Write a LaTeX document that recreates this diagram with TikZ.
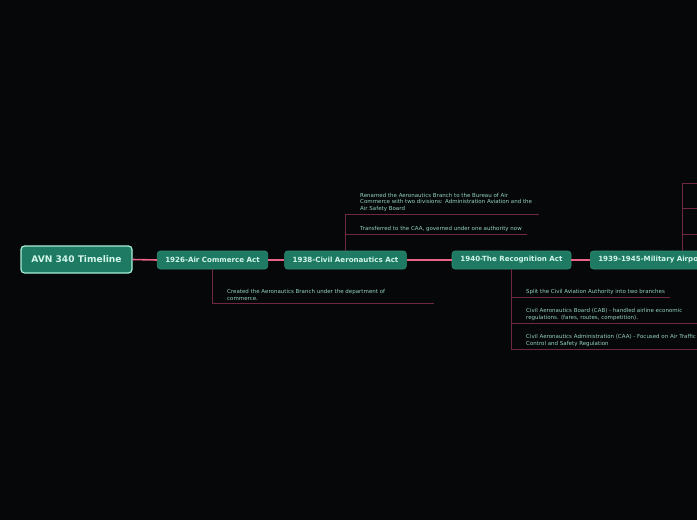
\documentclass[tikz,border=0pt]{standalone}
\usepackage{fontspec}
\setmainfont{DejaVu Sans}
\definecolor{bg}{HTML}{060709}
\definecolor{nodefill}{HTML}{1F7A63}
\definecolor{rootline}{HTML}{A8F0D8}
\definecolor{topicline}{HTML}{2E8F73}
\definecolor{nodetext}{HTML}{D2F5EA}
\definecolor{mainlink}{HTML}{E8628A}
\definecolor{sublink}{HTML}{6E2840}
\definecolor{leaftext}{HTML}{93D2BE}
\tikzset{
rootbox/.style={draw=rootline, fill=nodefill, line width=1.2pt, rounded corners=3.5pt,
  minimum width=111pt, minimum height=27pt, text=nodetext,
  font=\fontsize{9.1}{10}\selectfont\bfseries},
topicbox/.style={draw=topicline, fill=nodefill, line width=0.6pt, rounded corners=3pt,
  minimum height=18pt, inner xsep=8pt, text=nodetext,
  font=\fontsize{7.1}{8}\selectfont\bfseries},
leaf/.style={anchor=south west, align=left, inner sep=0pt, text=leaftext,
  font=\fontsize{5.5}{6.5}\selectfont},
mainlink/.style={draw=mainlink, line width=1.6pt},
branch/.style={draw=sublink, line width=0.8pt}
}
\begin{document}
\begin{tikzpicture}[x=1pt,y=-1pt]
  \useasboundingbox[fill=bg] (0,0) rectangle (697,520);
  % timeline
  \node[rootbox] (root) at (76.5,259.5) {AVN 340 Timeline};
  \node[topicbox, minimum width=109pt] (air) at (212.5,260) {1926-Air Commerce Act};
  \node[topicbox, minimum width=119pt] (civil) at (345.5,260) {1938-Civil Aeronautics Act};
  \node[topicbox, minimum width=119pt] (recog) at (511.5,260) {1940-The Recognition Act};
  \node[topicbox, anchor=west, text width=168pt, align=left] (military) at (590,260) {1939-1945-Military Airports};
  \draw[mainlink] (root.east) -- (air.west);
  \draw[mainlink] (air.east) -- (civil.west);
  \draw[mainlink] (civil.east) -- (recog.west);
  \draw[mainlink] (recog.east) -- (military.west);
  % 1926
  \node[leaf] (created) at (227,300.5) {Created the Aeronautics Branch under the department of\\commerce.};
  \coordinate (createdend) at (434,303);
  \draw[branch] (air.south) |- (createdend);
  % 1938
  \node[leaf] (renamed) at (360,211.5) {Renamed the Aeronautics Branch to the Bureau of Air\\Commerce with two divisions: Administration Aviation and the\\Air Safety Board};
  \node[leaf] (transferred) at (360,231.5) {Transferred to the CAA, governed under one authority now};
  \coordinate (renamedend) at (539,214);
  \coordinate (transferredend) at (527,234);
  \draw[branch] (civil.north) |- (renamedend);
  \draw[branch] (civil.north |- transferredend) -- (transferredend);
  % 1940
  \node[leaf] (split) at (526,294.5) {Split the Civil Aviation Authority into two branches};
  \node[leaf] (board) at (526,320.5) {Civil Aeronautics Board (CAB) - handled airline economic\\regulations. (fares, routes, competition).};
  \node[leaf] (admin) at (526,346.5) {Civil Aeronautics Administration (CAA) - Focused on Air Traffic\\Control and Safety Regulation};
  \coordinate (splitend) at (670,297);
  \coordinate (boardend) at (710,323);
  \coordinate (adminend) at (710,349);
  \draw[branch] (recog.south) |- (adminend);
  \draw[branch] (recog.south |- splitend) -- (splitend);
  \draw[branch] (recog.south |- boardend) -- (boardend);
  % 1939-1945
  \coordinate (milone) at (710,183);
  \coordinate (miltwo) at (710,208);
  \coordinate (milthree) at (710,234);
  \draw[branch] (military.north) |- (milone);
  \draw[branch] (military.north |- miltwo) -- (miltwo);
  \draw[branch] (military.north |- milthree) -- (milthree);
\end{tikzpicture}
\end{document}
